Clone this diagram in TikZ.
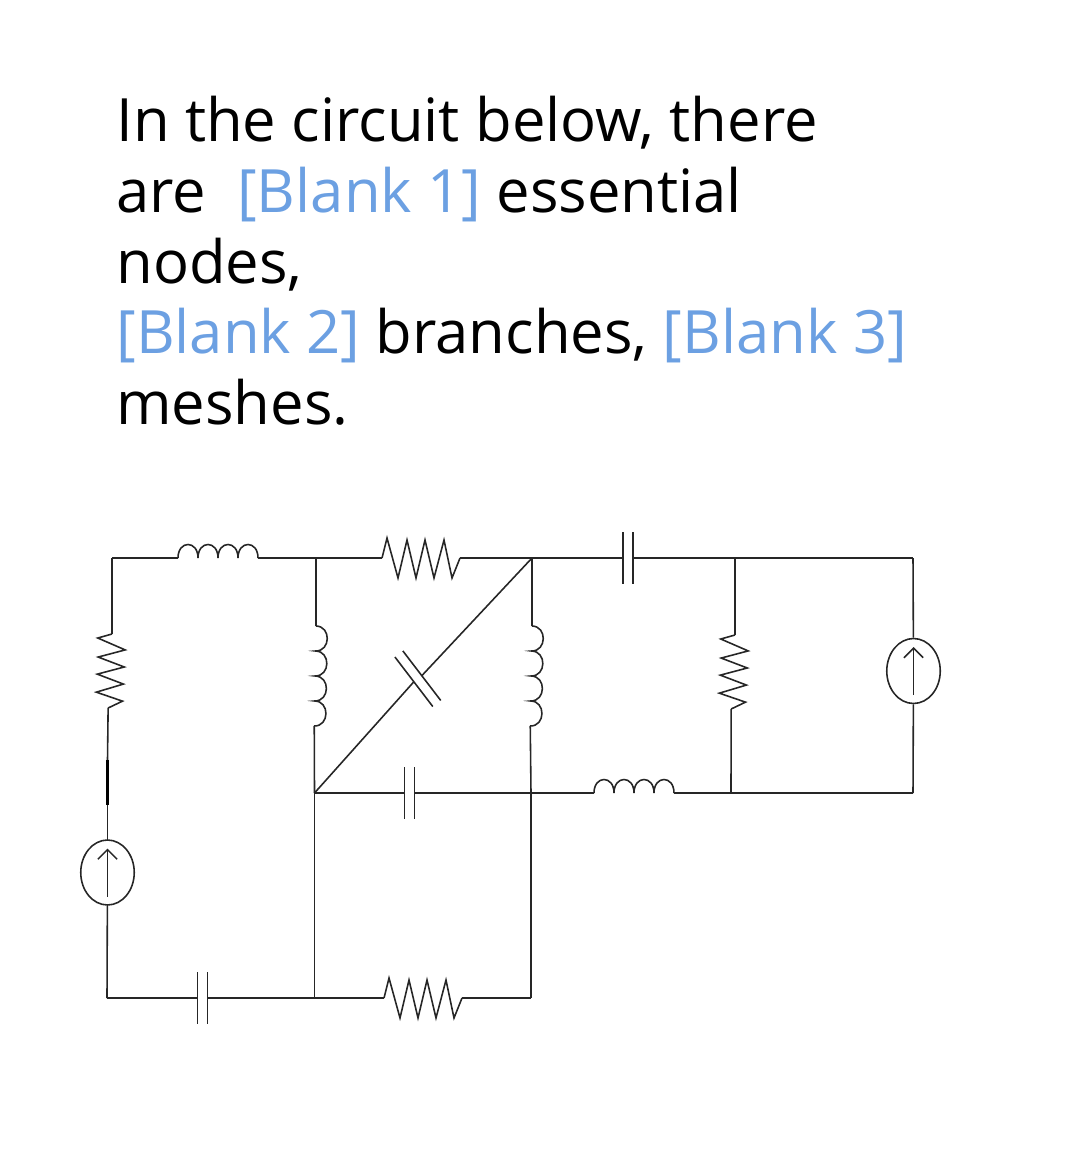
\documentclass[tikz,border=0pt]{standalone}
\usepackage{fontspec}
\setmainfont{Open Sans}
\usetikzlibrary{arrows.meta}
\usetikzlibrary{shapes.geometric}
\definecolor{blankblue}{HTML}{6CA0E2}
\newcommand{\blankbox}[1]{\textcolor{blankblue}{[Blank #1]}}
\tikzset{wire/.style = {line width=0.9pt,color=black!85}}
\tikzset{heavywire/.style = {line width=1.5pt,color=black}}
\tikzset{ring/.style = {shape=ellipse,draw,line width=0.9pt,color=black!85,minimum width=1.07cm,minimum height=1.3cm,inner sep=0pt}}
\tikzset{resistor/.pic = {
    \coordinate (-a) at (0,0);
    \coordinate (-b) at (78,0);
    \draw[wire] (-a) -- (5,-20) -- (16,20) -- (25,-18) -- (34,20) -- (43,-18) -- (52,20) -- (62,-18) -- (70,20) -- (-b);
}}
\tikzset{inductor/.pic = {
    \coordinate (-a) at (0,0);
    \coordinate (-b) at (80,0);
    \draw[wire] (-a) foreach \i in {0,...,3} { .. controls (20*\i,-18) and (20*\i+20,-18) .. (20*\i+20,0)};
}}
\tikzset{capacitor/.pic = {
    \coordinate (-a) at (0,0);
    \coordinate (-b) at (10,0);
    \draw[wire] (0,-26) -- (0,26);
    \draw[wire] (10,-26) -- (10,26);
}}
\tikzset{source/.pic = {
    \node[ring] (-ring) at (0,0) {};
    \draw[wire,-{Straight Barb[length=5.5pt,width=11pt]}] (0,24) -- (0,-24);
}}
\begin{document}
\begin{tikzpicture}[x=0.02cm,y=-0.02cm]
  \useasboundingbox (0,0) rectangle (1072,1172);
  \node[anchor=north west,align=left,inner sep=0pt,font=\fontsize{34}{40.25}\selectfont] (question) at (116,96)
    {In the circuit below, there\\ are\ \ \blankbox{1} essential\\ nodes,\\ \blankbox{2} branches, \blankbox{3}\\ meshes.};

  % junctions
  \coordinate (TL) at (112,558);
  \coordinate (TA) at (316,558);
  \coordinate (TB) at (532,558);
  \coordinate (TC) at (735,558);
  \coordinate (TR) at (913,558);
  \coordinate (MA) at (314.5,793);
  \coordinate (MB) at (531,793);
  \coordinate (MC) at (731,793);
  \coordinate (MR) at (913,793);
  \coordinate (BL) at (107,998);
  \coordinate (BA) at (314.5,998);
  \coordinate (BB) at (531,998);
  \coordinate (HA) at (107.5,760);
  \coordinate (HB) at (107.5,805);

  % parts
  \pic[rotate=-93,xscale=.95,yscale=-.7] (Ra) at (112,634) {resistor};
  \pic (Rb) at (382,558) {resistor};
  \pic[rotate=-93,xscale=.95,yscale=-.7] (Rc) at (735,635) {resistor};
  \pic (Rd) at (384,998) {resistor};
  \pic (La) at (178,558) {inductor};
  \pic (Lb) at (594,793) {inductor};
  \pic[rotate=-91,xscale=1.25,yscale=.85] (Lc) at (316,626) {inductor};
  \pic[rotate=-91,xscale=1.25,yscale=.85] (Ld) at (532,626) {inductor};
  \pic (Ca) at (623,558) {capacitor};
  \pic (Cb) at (197.5,998) {capacitor};
  \pic (Cc) at (404.5,793) {capacitor};
  \pic[rotate=217.4,yscale=1.2] (Cd) at (421.8,675.7) {capacitor};
  \pic (Sa) at (107.5,872.5) {source};
  \pic (Sb) at (913.5,671) {source};

  \foreach \from/\to in {TL/La-a, La-b/TA, TA/Rb-a, Rb-b/TB, TB/Ca-a, Ca-b/TC, TC/TR,
      TR/Sb-ring, Sb-ring/MR, MR/MC, MC/Lb-b, Lb-a/MB, MB/Cc-b, Cc-a/MA,
      TA/Lc-a, Lc-b/MA, MA/BA, TB/Ld-a, Ld-b/MB, MB/BB, TB/Cd-a, Cd-b/MA,
      TC/Rc-a, Rc-b/MC, TL/Ra-a, Ra-b/HA, HB/Sa-ring, Sa-ring/BL,
      BL/Cb-a, Cb-b/BA, BA/Rd-a, Rd-b/BB}
    \draw[wire] (\from) -- (\to);
  \draw[heavywire] (HA) -- (HB);
\end{tikzpicture}
\end{document}
